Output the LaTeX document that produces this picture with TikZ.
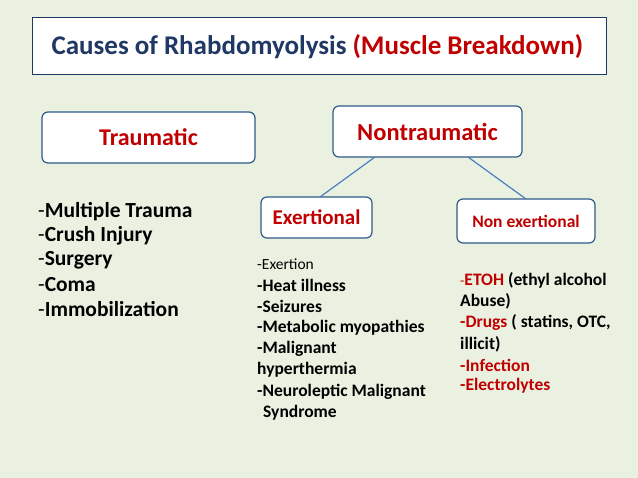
\documentclass[tikz,border=0pt]{standalone}
\usepackage{fontspec}
\setmainfont{Carlito}
\definecolor{bg}{HTML}{EBF1E1}
\definecolor{tblue}{HTML}{1F3864}
\definecolor{dred}{HTML}{C00000}
\definecolor{bord}{HTML}{2E5C8A}
\definecolor{lblue}{HTML}{4A7EBB}
\begin{document}
\begin{tikzpicture}[x=1pt,y=-1pt,
  rbox/.style={draw=bord,line width=1.2pt,fill=white,rounded corners=6pt},
  lbl/.style={text=dred,font=\bfseries},
  li/.style={anchor=west,inner sep=0pt,font=\bfseries\fontsize{21.5}{24}\selectfont},
  si/.style={anchor=west,inner sep=0pt,font=\bfseries\fontsize{17.5}{20}\selectfont},
  conn/.style={draw=lblue,line width=1.2pt}]
\fill[bg] (0,0) rectangle (638,478);
\useasboundingbox (0,0) rectangle (638,478);
\node[draw=tblue,line width=0.8pt,fill=white,minimum width=574pt,minimum height=57pt] (title) at (319,45.5) {};
\node[anchor=west,font=\bfseries\fontsize{27}{30}\selectfont,text=tblue] (tt) at (48,47) {Causes of Rhabdomyolysis \textcolor{dred}{(Muscle Breakdown)}};
\node[rbox,minimum width=213pt,minimum height=51pt] (trau) at (148.5,137.5) {};
\node[lbl,font=\bfseries\fontsize{24}{26}\selectfont] at (trau) {Traumatic};
\node[rbox,minimum width=189pt,minimum height=51pt] (nontr) at (427.5,131.5) {};
\node[lbl,font=\bfseries\fontsize{24.5}{26}\selectfont] at (nontr) {Nontraumatic};
\node[rbox,minimum width=111pt,minimum height=41pt] (exer) at (316.5,217.5) {};
\node[lbl,font=\bfseries\fontsize{21}{23}\selectfont] at (exer) {Exertional};
\node[rbox,minimum width=138pt,minimum height=44pt] (nonex) at (526,221) {};
\node[lbl,font=\bfseries\fontsize{17.5}{20}\selectfont] at (nonex) {Non exertional};
\coordinate (n1) at (375,157); \coordinate (e1) at (320,197);
\coordinate (n2) at (468,157); \coordinate (x1) at (526,199);
\draw[conn] (n1) -- (e1);
\draw[conn] (n2) -- (x1);
% left list
\foreach \t [count=\i] in {Multiple Trauma,Crush Injury,Surgery,Coma,Immobilization}{
  \node[li] (a\i) at (38,{187+\i*24.5}) {\mdseries-\bfseries\t};}
% exertional list
\node[si] (b1) at (257,264) {\mdseries\fontsize{15.5}{18}\selectfont -Exertion};
\node[si] (b2) at (257,285.5) {-Heat illness};
\node[si] (b3) at (257,306.5) {-Seizures};
\node[si] (b4) at (257,328) {-Metabolic myopathies};
\node[si] (b5) at (257,349) {-Malignant};
\node[si] (b6) at (257,370) {hyperthermia};
\node[si] (b7) at (257,391.5) {-Neuroleptic Malignant};
\node[si] (b8) at (263,412.5) {Syndrome};
% non exertional list
\node[si] (c1) at (460,280) {\textcolor{dred}{\mdseries\fontsize{14}{16}\selectfont-}\textcolor{dred}{ETOH} (ethyl alcohol};
\node[si] (c2) at (460,301) {Abuse)};
\node[si] (c3) at (460,322.5) {\textcolor{dred}{-Drugs} ( statins, OTC,};
\node[si] (c4) at (460,344) {illicit)};
\node[si,text=dred] (c5) at (460,365) {-Infection};
\node[si,text=dred] (c6) at (460,386) {-Electrolytes};
\end{tikzpicture}
\end{document}
